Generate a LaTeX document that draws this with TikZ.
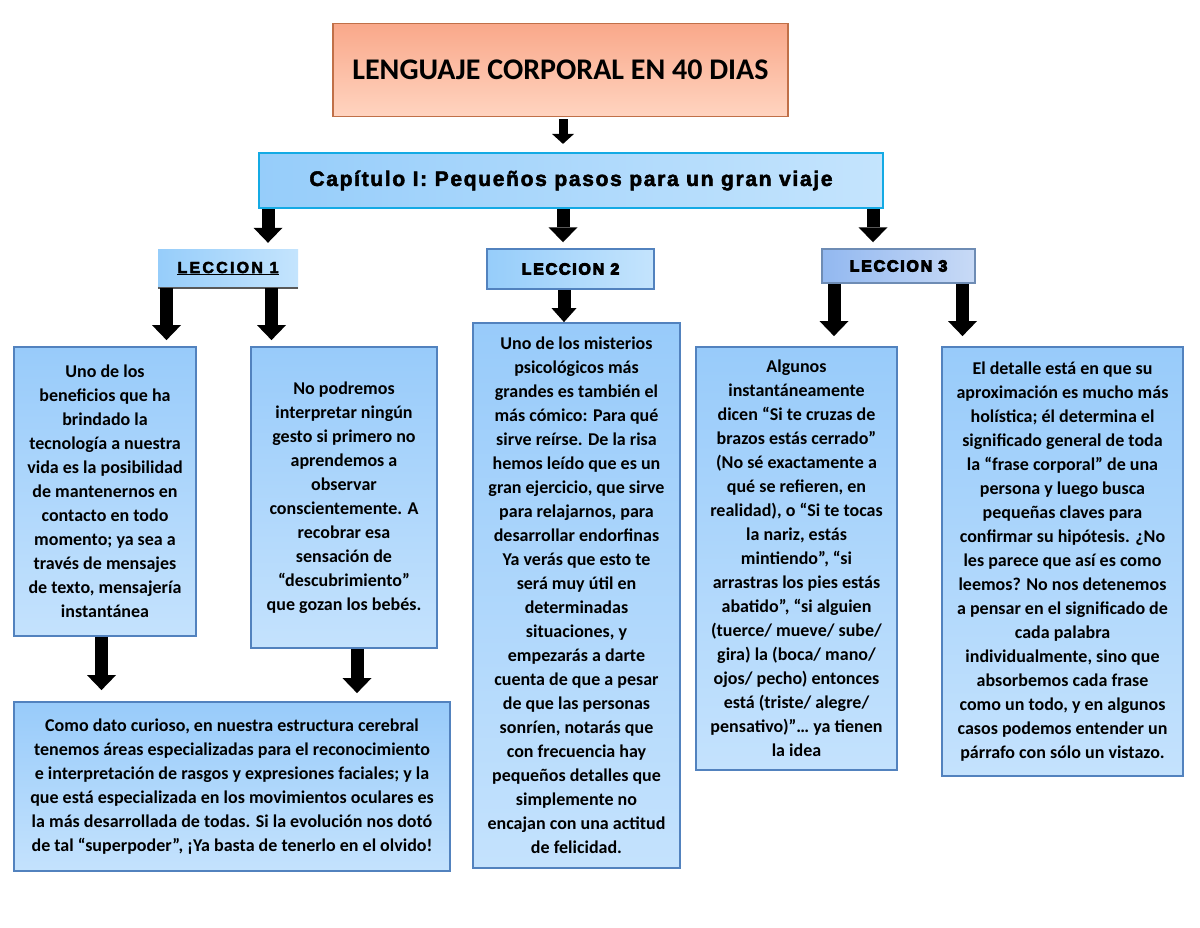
\documentclass[tikz,border=0pt]{standalone}
\usepackage{fontspec}
\setmainfont{Carlito}
\newfontfamily\chapfont{Liberation Sans}[LetterSpace=8, BoldFeatures={FakeBold=2.5}]
\newfontfamily\lecfont{Liberation Sans}[LetterSpace=14, BoldFeatures={FakeBold=3}]
\newfontfamily\lecheavy{Liberation Sans}[LetterSpace=11, BoldFeatures={FakeBold=6}]
\usetikzlibrary{arrows.meta}
\definecolor{titletop}{RGB}{249,168,138}
\definecolor{titlebot}{RGB}{255,212,192}
\definecolor{titleborder}{RGB}{192,112,72}
\definecolor{chapleft}{RGB}{150,205,250}
\definecolor{chapright}{RGB}{196,228,253}
\definecolor{chapborder}{RGB}{20,170,228}
\definecolor{boxtop}{RGB}{152,203,250}
\definecolor{boxbot}{RGB}{196,226,253}
\definecolor{boxborder}{RGB}{82,130,190}
\definecolor{lthreeleft}{RGB}{146,184,240}
\definecolor{lthreeright}{RGB}{200,218,246}
\definecolor{lthreeborder}{RGB}{110,140,180}
\tikzset{
  txtbox/.style={draw=boxborder, line width=1.8pt, top color=boxtop, bottom color=boxbot,
    inner sep=0pt, align=center, font=\fontsize{18}{24}\selectfont\bfseries},
  barrow/.style={line width=13pt, -{Triangle[width=29pt,length=15pt,line width=0pt]}},
  sarrow/.style={line width=9pt, -{Triangle[width=22pt,length=10pt,line width=0pt]}},
}
\begin{document}
\begin{tikzpicture}[x=1pt,y=-1pt]
\useasboundingbox[fill=white] (0,0) rectangle (1200,927);

% title
\node[draw=titleborder, line width=1.8pt, top color=titletop, bottom color=titlebot,
  minimum width=455pt, minimum height=93pt, inner sep=0pt,
  font=\fontsize{30}{36}\selectfont\bfseries] (title) at (560.5,70) {LENGUAJE CORPORAL EN 40 DIAS};

% chapter
\node[draw=chapborder, line width=2.2pt, left color=chapleft, right color=chapright,
  minimum width=624pt, minimum height=55pt, inner sep=0pt,
  font=\fontsize{21}{24}\selectfont\chapfont\bfseries] (chap) at (571,180.5) {Capítulo I: Pequeños pasos para un gran viaje};

% lessons
\node[left color=chapleft, right color=chapright, minimum width=140pt, minimum height=39pt, inner sep=0pt,
  font=\fontsize{16}{18}\selectfont\lecfont\bfseries] (L1) at (228,268.5) {\underline{LECCION 1}};
\draw[gray!70!black, line width=2pt] (L1.south west) -- (L1.south east);

\node[draw=boxborder, line width=1.5pt, left color=chapleft, right color=chapright, minimum width=167pt, minimum height=40pt, inner sep=0pt,
  font=\fontsize{16}{18}\selectfont\lecheavy\bfseries] (L2) at (570.5,269) {LECCION 2};

\node[draw=lthreeborder, line width=1.5pt, left color=lthreeleft, right color=lthreeright, minimum width=153pt, minimum height=34pt, inner sep=0pt,
  font=\fontsize{16}{18}\selectfont\lecheavy\bfseries] (L3) at (898.5,266) {LECCION 3};

% text boxes
\node[txtbox, minimum width=182pt, minimum height=289pt] (A) at (105,491.5) {Uno de los\\beneficios que ha\\brindado la\\tecnología a nuestra\\vida es la posibilidad\\de mantenernos en\\contacto en todo\\momento; ya sea a\\través de mensajes\\de texto, mensajería\\instantánea};

\node[txtbox, minimum width=186pt, minimum height=301pt] (B) at (344,497.5) {No podremos\\interpretar ningún\\gesto si primero no\\aprendemos a\\observar\\conscientemente. A\\recobrar esa\\sensación de\\“descubrimiento”\\que gozan los bebés.};

\node[txtbox, minimum width=207pt, minimum height=545pt] (C) at (576.5,595.5) {Uno de los misterios\\psicológicos más\\grandes es también el\\más cómico: Para qué\\sirve reírse. De la risa\\hemos leído que es un\\gran ejercicio, que sirve\\para relajarnos, para\\desarrollar endorfinas\\Ya verás que esto te\\será muy útil en\\determinadas\\situaciones, y\\empezarás a darte\\cuenta de que a pesar\\de que las personas\\sonríen, notarás que\\con frecuencia hay\\pequeños detalles que\\simplemente no\\encajan con una actitud\\de felicidad.};

\node[txtbox, minimum width=201pt, minimum height=423pt] (D) at (796.5,558.5) {Algunos\\instantáneamente\\dicen “Si te cruzas de\\brazos estás cerrado”\\(No sé exactamente a\\qué se refieren, en\\realidad), o “Si te tocas\\la nariz, estás\\mintiendo”, “si\\arrastras los pies estás\\abatido”, “si alguien\\(tuerce/ mueve/ sube/\\gira) la (boca/ mano/\\ojos/ pecho) entonces\\está (triste/ alegre/\\pensativo)”… ya tienen\\la idea};

\node[txtbox, minimum width=241pt, minimum height=429pt] (E) at (1062.5,561.5) {El detalle está en que su\\aproximación es mucho más\\holística; él determina el\\significado general de toda\\la “frase corporal” de una\\persona y luego busca\\pequeñas claves para\\confirmar su hipótesis. ¿No\\les parece que así es como\\leemos? No nos detenemos\\a pensar en el significado de\\cada palabra\\individualmente, sino que\\absorbemos cada frase\\como un todo, y en algunos\\casos podemos entender un\\párrafo con sólo un vistazo.};

\node[txtbox, minimum width=436pt, minimum height=169pt] (F) at (232,786.5) {Como dato curioso, en nuestra estructura cerebral\\tenemos áreas especializadas para el reconocimiento\\e interpretación de rasgos y expresiones faciales; y la\\que está especializada en los movimientos oculares es\\la más desarrollada de todas. Si la evolución nos dotó\\de tal “superpoder”, ¡Ya basta de tenerlo en el olvido!};

% arrows
\draw[sarrow, shorten <=2pt, shorten >=8pt] (title.south -| 563,0) -- (chap.north -| 563,0);
\draw[barrow, shorten >=6pt] (chap.south -| 268,0) -- (L1.north -| 268,0);
\draw[barrow, shorten >=6pt] (chap.south -| 563,0) -- (L2.north -| 563,0);
\draw[barrow, shorten >=6pt] (chap.south -| 873,0) -- (L3.north -| 873,0);
\draw[barrow, shorten >=6pt] (L1.south -| 166.5,0) -- (A.north -| 166.5,0);
\draw[barrow, shorten >=6pt] (L1.south -| 271.5,0) -- (B.north -| 271.5,0);
\draw[barrow, -{Triangle[width=25pt,length=14pt,line width=0pt]}] (L2.south -| 564,0) -- (C.north -| 564,0);
\draw[barrow, shorten >=10pt] (L3.south -| 834,0) -- (D.north -| 834,0);
\draw[barrow, shorten >=10pt] (L3.south -| 962.5,0) -- (E.north -| 962.5,0);
\draw[barrow, shorten >=11pt] (A.south -| 101.5,0) -- (F.north -| 101.5,0);
\draw[barrow, shorten >=8pt] (B.south -| 357,0) -- (F.north -| 357,0);
\end{tikzpicture}
\end{document}
